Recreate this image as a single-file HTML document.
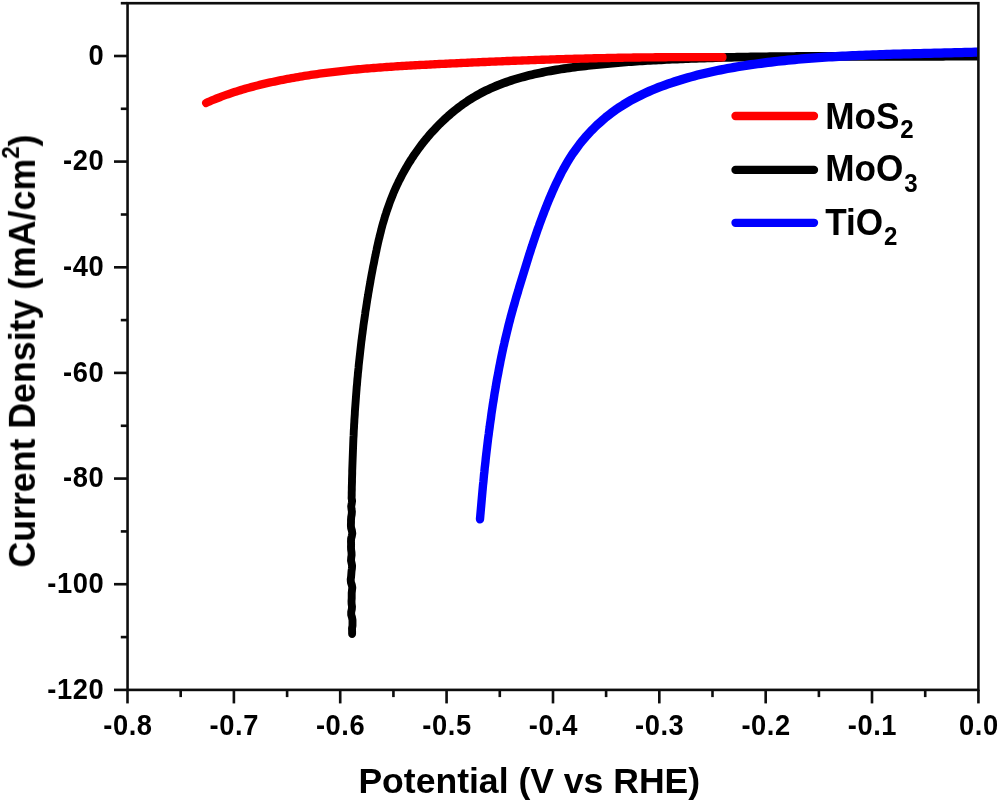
<!DOCTYPE html>
<html><head><meta charset="utf-8"><title>HER polarization curves</title>
<style>
html,body{margin:0;padding:0;background:#fff;}
body{width:1000px;height:802px;overflow:hidden;}
svg{display:block;}
text{font-family:"Liberation Sans",sans-serif;font-weight:bold;fill:#000;}
.tk{font-size:30px;letter-spacing:0.65px;}
.ax{font-size:36px;}
.ay{font-size:37.5px;}
.lg{font-size:36.5px;}
</style></head><body>
<svg width="1000" height="802" viewBox="0 0 1000 802">
<rect width="1000" height="802" fill="#fff"/>
<filter id="soft" x="0" y="0" width="1000" height="802" filterUnits="userSpaceOnUse"><feGaussianBlur stdDeviation="0.4"/></filter>
<g filter="url(#soft)">

<clipPath id="cp"><rect x="127.5" y="0" width="850.9" height="700"/></clipPath>
<g fill="none" stroke-linecap="round" stroke-linejoin="round" clip-path="url(#cp)"><g transform="scale(1,1.10)">
<path d="M352.1 576.08 L352.1 573.62 L352.0 571.15 L352.5 568.69 L352.5 566.23 L352.5 563.77 L352.0 561.30 L351.2 558.84 L351.2 556.38 L351.8 553.91 L352.0 551.45 L351.6 548.99 L351.5 546.52 L351.7 544.06 L351.7 541.59 L351.7 539.13 L352.0 536.66 L352.3 534.20 L351.8 531.73 L350.9 529.27 L350.7 526.80 L351.1 524.34 L351.3 521.87 L351.5 519.41 L351.9 516.94 L352.1 514.47 L351.6 512.01 L351.0 509.54 L351.2 507.08 L351.6 504.61 L351.5 502.14 L351.1 499.68 L351.0 497.21 L351.1 494.74 L351.0 492.28 L351.1 489.81 L351.8 487.35 L352.3 484.88 L351.9 482.41 L351.1 479.95 L350.9 477.48 L351.0 475.01 L351.0 472.55 L351.2 470.08 L351.7 467.62 L351.9 465.15 L351.5 462.68 L351.2 460.22 L351.7 457.75 L352.1 455.29 L351.6 452.82 L351.7 450.35 L351.7 447.89 L351.8 445.42 L351.8 442.96 L351.9 440.49 L352.0 438.03 L352.0 435.56 L352.1 433.10 L352.2 430.63 L352.2 428.17 L352.3 425.70 L352.4 423.24 L352.5 420.78 L352.6 418.31 L352.7 415.85 L352.8 413.39 L352.9 410.92 L353.0 408.46 L353.1 406.00 L353.2 403.53 L353.3 401.07 L353.4 398.61 L353.6 396.15 L353.7 393.69 L353.8 391.23 L354.0 388.76 L354.1 386.30 L354.3 383.84 L354.4 381.38 L354.6 378.92 L354.8 376.46 L354.9 374.01 L355.1 371.55 L355.3 369.09 L355.5 366.63 L355.7 364.17 L355.9 361.71 L356.1 359.26 L356.3 356.80 L356.5 354.34 L356.7 351.89 L357.0 349.43 L357.2 346.98 L357.4 344.52 L357.7 342.07 L357.9 339.61 L358.2 337.16 L358.5 334.71 L358.7 332.26 L359.0 329.80 L359.3 327.35 L359.6 324.90 L359.9 322.45 L360.2 320.00 L360.5 317.55 L360.8 315.10 L361.1 312.65 L361.4 310.21 L361.8 307.76 L362.1 305.31 L362.5 302.87 L362.8 300.42 L363.2 297.98 L363.5 295.54 L363.9 293.09 L364.3 290.65 L364.7 288.21 L365.1 285.77 L365.4 283.33 L365.9 280.89 L366.3 278.45 L366.7 276.02 L367.1 273.58 L367.5 271.14 L368.0 268.71 L368.4 266.28 L368.9 263.84 L369.3 261.41 L369.8 258.98 L370.3 256.55 L370.7 254.13 L371.2 251.70 L371.7 249.27 L372.2 246.85 L372.7 244.42 L373.2 242.00 L373.8 239.58 L374.3 237.16 L374.8 234.74 L375.4 232.32 L375.9 229.90 L376.5 227.49 L377.0 225.07 L377.6 222.66 L378.2 220.26 L378.8 217.85 L379.5 215.45 L380.1 213.06 L380.8 210.67 L381.4 208.28 L382.1 205.90 L382.8 203.53 L383.6 201.16 L384.4 198.80 L385.1 196.44 L386.0 194.10 L386.8 191.76 L387.7 189.43 L388.6 187.10 L389.5 184.79 L390.4 182.48 L391.4 180.19 L392.4 177.90 L393.4 175.63 L394.5 173.37 L395.6 171.11 L396.7 168.87 L397.9 166.64 L399.0 164.43 L400.3 162.23 L401.5 160.04 L402.8 157.86 L404.1 155.70 L405.4 153.55 L406.8 151.42 L408.2 149.30 L409.6 147.19 L411.1 145.11 L412.5 143.04 L414.0 140.98 L415.6 138.95 L417.2 136.93 L418.8 134.92 L420.4 132.94 L422.0 130.97 L423.7 129.03 L425.4 127.10 L427.2 125.19 L428.9 123.30 L430.7 121.44 L432.5 119.59 L434.4 117.76 L436.2 115.96 L438.1 114.18 L440.0 112.43 L442.0 110.70 L443.9 109.00 L445.9 107.32 L447.9 105.67 L450.0 104.04 L452.0 102.45 L454.1 100.88 L456.3 99.34 L458.4 97.83 L460.6 96.36 L462.7 94.91 L465.0 93.50 L467.2 92.12 L469.5 90.77 L471.7 89.46 L474.1 88.18 L476.4 86.94 L478.7 85.73 L481.1 84.56 L483.5 83.43 L485.9 82.33 L488.4 81.27 L490.8 80.25 L493.3 79.26 L495.8 78.30 L498.3 77.37 L500.9 76.48 L503.4 75.61 L506.0 74.78 L508.5 73.97 L511.1 73.19 L513.7 72.44 L516.3 71.72 L518.9 71.02 L521.5 70.35 L524.1 69.70 L526.7 69.08 L529.3 68.48 L532.0 67.90 L534.6 67.34 L537.3 66.80 L539.9 66.28 L542.6 65.79 L545.2 65.31 L547.9 64.85 L550.6 64.40 L553.2 63.97 L555.9 63.56 L558.6 63.16 L561.3 62.78 L564.0 62.41 L566.7 62.05 L569.4 61.70 L572.0 61.37 L574.7 61.04 L577.4 60.73 L580.1 60.42 L582.8 60.12 L585.5 59.83 L588.2 59.55 L590.9 59.27 L593.6 59.00 L596.3 58.74 L599.0 58.49 L601.7 58.25 L604.4 58.01 L607.1 57.78 L609.8 57.55 L612.5 57.33 L615.2 57.12 L617.9 56.91 L620.6 56.71 L623.3 56.52 L626.0 56.33 L628.7 56.15 L631.4 55.97 L634.1 55.80 L636.8 55.63 L639.5 55.47 L642.2 55.31 L644.9 55.16 L647.6 55.02 L650.3 54.87 L653.1 54.73 L655.8 54.60 L658.5 54.47 L661.2 54.35 L663.9 54.22 L666.6 54.11 L669.3 53.99 L672.0 53.88 L674.7 53.77 L677.4 53.67 L680.1 53.56 L682.8 53.46 L685.5 53.37 L688.2 53.27 L691.0 53.18 L693.7 53.09 L696.4 53.01 L699.1 52.93 L701.8 52.84 L704.5 52.77 L707.2 52.69 L709.9 52.62 L712.6 52.55 L715.3 52.48 L718.0 52.41 L720.8 52.35 L723.5 52.29 L726.2 52.23 L728.9 52.17 L731.6 52.11 L734.3 52.06 L737.0 52.01 L739.7 51.96 L742.4 51.91 L745.2 51.87 L747.9 51.82 L750.6 51.78 L753.3 51.74 L756.0 51.71 L758.7 51.67 L761.4 51.63 L764.1 51.60 L766.8 51.57 L769.6 51.54 L772.3 51.51 L775.0 51.49 L777.7 51.46 L780.4 51.44 L783.1 51.41 L785.8 51.39 L788.5 51.37 L791.3 51.36 L794.0 51.34 L796.7 51.32 L799.4 51.31 L802.1 51.29 L804.8 51.28 L807.5 51.27 L810.3 51.26 L813.0 51.25 L815.7 51.24 L818.4 51.23 L821.1 51.23 L823.8 51.22 L826.5 51.21 L829.2 51.21 L832.0 51.21 L834.7 51.20 L837.4 51.20 L840.1 51.20 L842.8 51.20 L845.5 51.19 L848.2 51.19 L851.0 51.19 L853.7 51.19 L856.4 51.19 L859.1 51.20 L861.8 51.20 L864.5 51.20 L867.2 51.20 L869.9 51.20 L872.7 51.20 L875.4 51.20 L878.1 51.21 L880.8 51.21 L883.5 51.21 L886.2 51.21 L888.9 51.21 L891.6 51.22 L894.4 51.22 L897.1 51.22 L899.8 51.22 L902.5 51.22 L905.2 51.22 L907.9 51.22 L910.6 51.22 L913.3 51.22 L916.1 51.22 L918.8 51.22 L921.5 51.21 L924.2 51.21 L926.9 51.21 L929.6 51.20 L932.3 51.20 L935.0 51.19 L937.7 51.18 L940.5 51.18 L943.2 51.17 L945.9 51.16 L948.6 51.15 L951.3 51.14 L954.0 51.12 L956.7 51.11 L959.4 51.10 L962.1 51.08 L964.8 51.06 L967.6 51.04 L970.3 51.02 L973.0 51.00 L975.7 50.98 L978.4 50.96" stroke="#000" stroke-width="7.9"/>
<path d="M205.8 93.68 L207.8 92.87 L209.8 92.08 L211.8 91.30 L213.9 90.54 L215.9 89.79 L217.9 89.06 L220.0 88.34 L222.0 87.64 L224.1 86.95 L226.1 86.28 L228.2 85.62 L230.3 84.97 L232.3 84.34 L234.4 83.72 L236.5 83.11 L238.6 82.52 L240.7 81.94 L242.7 81.37 L244.8 80.81 L246.9 80.27 L249.0 79.73 L251.1 79.21 L253.2 78.70 L255.3 78.20 L257.5 77.70 L259.6 77.22 L261.7 76.75 L263.8 76.29 L265.9 75.84 L268.0 75.40 L270.2 74.96 L272.3 74.54 L274.4 74.12 L276.6 73.71 L278.7 73.31 L280.8 72.92 L283.0 72.53 L285.1 72.15 L287.2 71.78 L289.4 71.42 L291.5 71.06 L293.7 70.71 L295.8 70.37 L298.0 70.03 L300.1 69.70 L302.3 69.38 L304.4 69.06 L306.6 68.75 L308.7 68.45 L310.9 68.15 L313.0 67.86 L315.2 67.57 L317.3 67.29 L319.5 67.02 L321.6 66.75 L323.8 66.49 L326.0 66.23 L328.1 65.98 L330.3 65.74 L332.5 65.50 L334.6 65.26 L336.8 65.03 L339.0 64.81 L341.1 64.59 L343.3 64.37 L345.5 64.16 L347.6 63.95 L349.8 63.75 L352.0 63.56 L354.2 63.36 L356.3 63.17 L358.5 62.99 L360.7 62.81 L362.8 62.63 L365.0 62.46 L367.2 62.29 L369.4 62.13 L371.6 61.97 L373.7 61.81 L375.9 61.65 L378.1 61.50 L380.3 61.35 L382.5 61.21 L384.6 61.07 L386.8 60.93 L389.0 60.79 L391.2 60.66 L393.4 60.53 L395.5 60.40 L397.7 60.27 L399.9 60.15 L402.1 60.03 L404.3 59.91 L406.5 59.79 L408.6 59.68 L410.8 59.57 L413.0 59.45 L415.2 59.34 L417.4 59.24 L419.6 59.13 L421.8 59.02 L423.9 58.92 L426.1 58.82 L428.3 58.72 L430.5 58.62 L432.7 58.52 L434.9 58.42 L437.0 58.32 L439.2 58.22 L441.4 58.13 L443.6 58.03 L445.8 57.94 L448.0 57.84 L450.1 57.75 L452.3 57.65 L454.5 57.56 L456.7 57.47 L458.9 57.37 L461.1 57.28 L463.2 57.19 L465.4 57.10 L467.6 57.01 L469.8 56.92 L472.0 56.83 L474.1 56.75 L476.3 56.66 L478.5 56.57 L480.7 56.49 L482.9 56.40 L485.1 56.32 L487.2 56.23 L489.4 56.15 L491.6 56.06 L493.8 55.98 L496.0 55.90 L498.1 55.82 L500.3 55.74 L502.5 55.66 L504.7 55.58 L506.9 55.50 L509.0 55.42 L511.2 55.35 L513.4 55.27 L515.6 55.20 L517.8 55.12 L519.9 55.05 L522.1 54.97 L524.3 54.90 L526.5 54.83 L528.6 54.76 L530.8 54.69 L533.0 54.62 L535.2 54.55 L537.4 54.48 L539.5 54.41 L541.7 54.35 L543.9 54.28 L546.1 54.22 L548.3 54.15 L550.4 54.09 L552.6 54.03 L554.8 53.96 L557.0 53.90 L559.2 53.84 L561.3 53.78 L563.5 53.72 L565.7 53.67 L567.9 53.61 L570.0 53.55 L572.2 53.50 L574.4 53.44 L576.6 53.39 L578.8 53.34 L580.9 53.29 L583.1 53.24 L585.3 53.19 L587.5 53.14 L589.7 53.09 L591.8 53.04 L594.0 52.99 L596.2 52.95 L598.4 52.90 L600.6 52.86 L602.7 52.82 L604.9 52.78 L607.1 52.73 L609.3 52.69 L611.5 52.66 L613.6 52.62 L615.8 52.58 L618.0 52.54 L620.2 52.51 L622.4 52.47 L624.5 52.44 L626.7 52.41 L628.9 52.38 L631.1 52.35 L633.3 52.32 L635.4 52.29 L637.6 52.26 L639.8 52.24 L642.0 52.21 L644.2 52.19 L646.4 52.16 L648.5 52.14 L650.7 52.12 L652.9 52.10 L655.1 52.08 L657.3 52.06 L659.5 52.05 L661.6 52.03 L663.8 52.01 L666.0 52.00 L668.2 51.99 L670.4 51.98 L672.6 51.97 L674.7 51.96 L676.9 51.95 L679.1 51.94 L681.3 51.94 L683.5 51.93 L685.7 51.93 L687.8 51.92 L690.0 51.92 L692.2 51.92 L694.4 51.92 L696.6 51.92 L698.8 51.93 L701.0 51.93 L703.2 51.94 L705.3 51.94 L707.5 51.95 L709.7 51.96 L711.9 51.97 L714.1 51.98 L716.3 51.99 L718.5 52.01 L720.7 52.02 L722.8 52.04" stroke="#f00" stroke-width="7.6"/>
<path d="M480.0 471.81 L480.3 468.73 L480.6 465.65 L480.9 462.57 L481.2 459.49 L481.5 456.41 L481.8 453.33 L482.1 450.25 L482.4 447.17 L482.7 444.10 L483.0 441.02 L483.4 437.94 L483.7 434.86 L484.0 431.78 L484.4 428.70 L484.7 425.62 L485.1 422.55 L485.5 419.47 L485.8 416.39 L486.2 413.32 L486.6 410.24 L487.0 407.17 L487.4 404.10 L487.8 401.02 L488.2 397.95 L488.7 394.88 L489.1 391.81 L489.6 388.74 L490.0 385.68 L490.5 382.61 L491.0 379.55 L491.4 376.48 L491.9 373.42 L492.4 370.36 L492.9 367.30 L493.5 364.24 L494.0 361.18 L494.5 358.13 L495.1 355.07 L495.7 352.02 L496.2 348.97 L496.8 345.92 L497.4 342.88 L498.1 339.83 L498.7 336.79 L499.3 333.75 L500.0 330.72 L500.6 327.68 L501.3 324.65 L502.0 321.63 L502.7 318.60 L503.4 315.58 L504.2 312.56 L504.9 309.55 L505.7 306.54 L506.5 303.53 L507.3 300.52 L508.1 297.52 L508.9 294.53 L509.8 291.53 L510.6 288.55 L511.5 285.56 L512.4 282.58 L513.3 279.60 L514.3 276.63 L515.2 273.66 L516.1 270.69 L517.1 267.72 L518.1 264.76 L519.0 261.80 L520.0 258.83 L521.0 255.87 L522.0 252.91 L523.0 249.96 L524.0 247.00 L525.0 244.04 L526.0 241.09 L527.0 238.13 L528.0 235.18 L529.0 232.23 L530.1 229.28 L531.1 226.34 L532.2 223.40 L533.2 220.46 L534.3 217.53 L535.4 214.59 L536.5 211.67 L537.6 208.74 L538.8 205.82 L539.9 202.91 L541.1 200.00 L542.3 197.10 L543.5 194.20 L544.7 191.30 L546.0 188.41 L547.2 185.53 L548.5 182.65 L549.8 179.78 L551.2 176.92 L552.5 174.07 L553.9 171.23 L555.3 168.40 L556.8 165.59 L558.3 162.79 L559.8 160.01 L561.3 157.25 L562.9 154.52 L564.6 151.81 L566.3 149.12 L568.0 146.46 L569.8 143.84 L571.6 141.24 L573.5 138.68 L575.5 136.15 L577.5 133.66 L579.5 131.20 L581.6 128.79 L583.8 126.41 L586.0 124.07 L588.3 121.78 L590.6 119.52 L593.0 117.31 L595.4 115.15 L597.8 113.02 L600.4 110.95 L602.9 108.91 L605.5 106.93 L608.2 104.99 L610.8 103.11 L613.6 101.27 L616.3 99.48 L619.1 97.74 L622.0 96.06 L624.9 94.43 L627.8 92.84 L630.7 91.31 L633.7 89.82 L636.7 88.38 L639.8 86.99 L642.8 85.64 L645.9 84.33 L649.0 83.07 L652.2 81.85 L655.3 80.66 L658.5 79.51 L661.7 78.40 L664.9 77.33 L668.1 76.29 L671.4 75.28 L674.6 74.30 L677.9 73.36 L681.1 72.45 L684.4 71.56 L687.7 70.70 L691.0 69.87 L694.3 69.06 L697.5 68.28 L700.9 67.53 L704.2 66.80 L707.5 66.10 L710.8 65.42 L714.1 64.76 L717.4 64.12 L720.8 63.50 L724.1 62.91 L727.4 62.33 L730.8 61.78 L734.1 61.24 L737.5 60.72 L740.8 60.22 L744.2 59.74 L747.6 59.27 L750.9 58.82 L754.3 58.38 L757.6 57.96 L761.0 57.55 L764.4 57.15 L767.8 56.77 L771.1 56.40 L774.5 56.04 L777.9 55.70 L781.3 55.36 L784.6 55.04 L788.0 54.73 L791.4 54.43 L794.8 54.14 L798.2 53.87 L801.6 53.60 L804.9 53.34 L808.3 53.09 L811.7 52.85 L815.1 52.62 L818.5 52.40 L821.9 52.19 L825.3 51.99 L828.7 51.79 L832.1 51.61 L835.5 51.43 L838.9 51.26 L842.3 51.09 L845.7 50.93 L849.1 50.78 L852.5 50.64 L855.9 50.50 L859.3 50.37 L862.7 50.24 L866.1 50.12 L869.5 50.00 L872.9 49.89 L876.3 49.78 L879.7 49.68 L883.1 49.58 L886.6 49.48 L890.0 49.39 L893.4 49.30 L896.8 49.21 L900.2 49.13 L903.6 49.05 L907.0 48.97 L910.4 48.89 L913.8 48.81 L917.2 48.74 L920.6 48.66 L924.0 48.59 L927.4 48.52 L930.8 48.45 L934.2 48.38 L937.6 48.30 L941.0 48.23 L944.4 48.16 L947.8 48.08 L951.2 48.01 L954.6 47.93 L958.0 47.85 L961.4 47.77 L964.8 47.68 L968.2 47.60 L971.6 47.51 L975.0 47.42 L978.4 47.32" stroke="#00f" stroke-width="8.4"/>
</g></g>
<g stroke="#0a0a0a" stroke-width="2.6" fill="none" stroke-linecap="butt">
<rect x="127.55" y="3.20" width="850.85" height="686.70"/>
<line x1="120.8" y1="3.2" x2="127.5" y2="3.2"/>
<line x1="114.0" y1="56.0" x2="127.5" y2="56.0"/>
<line x1="120.8" y1="108.8" x2="127.5" y2="108.8"/>
<line x1="114.0" y1="161.6" x2="127.5" y2="161.6"/>
<line x1="120.8" y1="214.5" x2="127.5" y2="214.5"/>
<line x1="114.0" y1="267.3" x2="127.5" y2="267.3"/>
<line x1="120.8" y1="320.1" x2="127.5" y2="320.1"/>
<line x1="114.0" y1="372.9" x2="127.5" y2="372.9"/>
<line x1="120.8" y1="425.8" x2="127.5" y2="425.8"/>
<line x1="114.0" y1="478.6" x2="127.5" y2="478.6"/>
<line x1="120.8" y1="531.4" x2="127.5" y2="531.4"/>
<line x1="114.0" y1="584.2" x2="127.5" y2="584.2"/>
<line x1="120.8" y1="637.1" x2="127.5" y2="637.1"/>
<line x1="114.0" y1="689.9" x2="127.5" y2="689.9"/>
<line x1="127.5" y1="689.9" x2="127.5" y2="703.4"/>
<line x1="180.7" y1="689.9" x2="180.7" y2="697.1"/>
<line x1="233.9" y1="689.9" x2="233.9" y2="703.4"/>
<line x1="287.1" y1="689.9" x2="287.1" y2="697.1"/>
<line x1="340.2" y1="689.9" x2="340.2" y2="703.4"/>
<line x1="393.4" y1="689.9" x2="393.4" y2="697.1"/>
<line x1="446.6" y1="689.9" x2="446.6" y2="703.4"/>
<line x1="499.8" y1="689.9" x2="499.8" y2="697.1"/>
<line x1="553.0" y1="689.9" x2="553.0" y2="703.4"/>
<line x1="606.1" y1="689.9" x2="606.1" y2="697.1"/>
<line x1="659.3" y1="689.9" x2="659.3" y2="703.4"/>
<line x1="712.5" y1="689.9" x2="712.5" y2="697.1"/>
<line x1="765.7" y1="689.9" x2="765.7" y2="703.4"/>
<line x1="818.9" y1="689.9" x2="818.9" y2="697.1"/>
<line x1="872.0" y1="689.9" x2="872.0" y2="703.4"/>
<line x1="925.2" y1="689.9" x2="925.2" y2="697.1"/>
<line x1="978.4" y1="689.9" x2="978.4" y2="703.4"/>
</g>
<text class="tk" transform="translate(104.3,64.7) scale(0.910,1)" text-anchor="end">0</text>
<text class="tk" transform="translate(104.3,170.3) scale(0.910,1)" text-anchor="end">-20</text>
<text class="tk" transform="translate(104.3,276.0) scale(0.910,1)" text-anchor="end">-40</text>
<text class="tk" transform="translate(104.3,381.6) scale(0.910,1)" text-anchor="end">-60</text>
<text class="tk" transform="translate(104.3,487.3) scale(0.910,1)" text-anchor="end">-80</text>
<text class="tk" transform="translate(104.3,592.9) scale(0.910,1)" text-anchor="end">-100</text>
<text class="tk" transform="translate(104.3,698.6) scale(0.910,1)" text-anchor="end">-120</text>
<text class="tk" transform="translate(127.9,735.4) scale(0.910,1)" text-anchor="middle">-0.8</text>
<text class="tk" transform="translate(234.3,735.4) scale(0.910,1)" text-anchor="middle">-0.7</text>
<text class="tk" transform="translate(340.6,735.4) scale(0.910,1)" text-anchor="middle">-0.6</text>
<text class="tk" transform="translate(447.0,735.4) scale(0.910,1)" text-anchor="middle">-0.5</text>
<text class="tk" transform="translate(553.4,735.4) scale(0.910,1)" text-anchor="middle">-0.4</text>
<text class="tk" transform="translate(659.7,735.4) scale(0.910,1)" text-anchor="middle">-0.3</text>
<text class="tk" transform="translate(766.1,735.4) scale(0.910,1)" text-anchor="middle">-0.2</text>
<text class="tk" transform="translate(872.4,735.4) scale(0.910,1)" text-anchor="middle">-0.1</text>
<text class="tk" transform="translate(978.8,735.4) scale(0.910,1)" text-anchor="middle">0.0</text>
<text class="ax" transform="translate(358.4,793.0) scale(0.988,1)" text-anchor="start">Potential (V vs RHE)</text>
<text class="ay" transform="translate(34.9,567.5) rotate(-90) scale(0.952,1)">Current Density (mA/cm<tspan font-size="23.5" dy="-16.5">2</tspan><tspan dy="16.5">)</tspan></text>
<line x1="735.5" y1="116.0" x2="814" y2="116.0" stroke="#f00" stroke-width="8.3" stroke-linecap="round"/>
<text class="lg" transform="translate(825.2,128.6) scale(0.963,1)" text-anchor="start">MoS<tspan font-size="25" dy="9.0" dx="1">2</tspan></text>
<line x1="735.5" y1="169.9" x2="814" y2="169.9" stroke="#000" stroke-width="8.3" stroke-linecap="round"/>
<text class="lg" transform="translate(825.2,181.4) scale(0.963,1)" text-anchor="start">MoO<tspan font-size="25" dy="10.6" dx="1">3</tspan></text>
<line x1="735.5" y1="222.8" x2="814" y2="222.8" stroke="#00f" stroke-width="8.3" stroke-linecap="round"/>
<text class="lg" transform="translate(825.2,234.6) scale(0.963,1)" text-anchor="start">TiO<tspan font-size="25" dy="9.9" dx="1">2</tspan></text>
</g>
</svg></body></html>
